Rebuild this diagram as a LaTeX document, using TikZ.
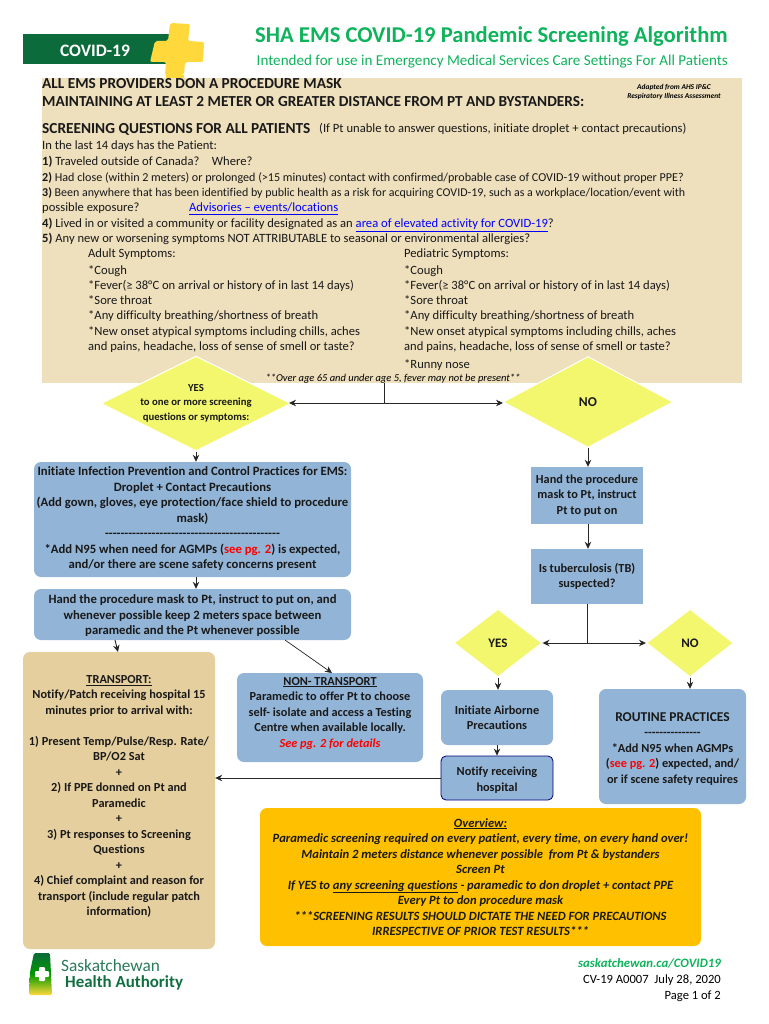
\documentclass[tikz,border=0pt]{standalone}
\usepackage{fontspec}
\setmainfont[Ligatures={TeXOff,NoCommon}]{Carlito}
\usetikzlibrary{shapes.geometric,arrows.meta}
\definecolor{beige}{HTML}{EEDFBD}
\definecolor{tan}{HTML}{E5CF9E}
\definecolor{bluebox}{HTML}{92B4D6}
\definecolor{ylw}{HTML}{F2F76E}
\definecolor{titlegreen}{HTML}{0FB35C}
\definecolor{bargreen}{HTML}{0B6B3A}
\definecolor{crossy}{HTML}{FFD93B}
\definecolor{orng}{HTML}{FFC000}
\definecolor{logogreen}{HTML}{2B7A5C}
\newcommand{\see}[1]{\textcolor{red}{#1}}
\tikzset{
 x=1pt,y=-1pt,
 ln/.style={anchor=base west,inner sep=0,font=\fontsize{12.6}{14}\selectfont,text=black!90},
 lnb/.style={ln,font=\fontsize{15.3}{16}\selectfont\bfseries},
 rbox/.style={draw=none,fill=bluebox,rounded corners=7pt},
 sbox/.style={draw=none,fill=bluebox},
 tx/.style={align=center,inner sep=0,font=\fontsize{12.3}{15.5}\selectfont\bfseries,text=black!90},
 txw/.style={tx,font=\fontsize{12.7}{15.5}\selectfont\bfseries},
 dia/.style={diamond,fill=ylw,draw=white,line width=1pt,inner sep=0,aspect=1},
 arr/.style={-{Stealth[length=7pt,width=6.5pt]},draw=black!85,line width=0.9pt},
 link/.style={draw=black!85,line width=0.9pt},
}
\begin{document}
\begin{tikzpicture}
\useasboundingbox (0,0) rectangle (768,1024);
\fill[white] (0,0) rectangle (768,1024);
% header
\fill[bargreen] (23,34) rectangle (170,64);
\node[font=\fontsize{17.5}{18}\selectfont\bfseries,text=white,inner sep=0] (cvd) at (95,51) {COVID-19};
\fill[crossy,rounded corners=2pt] (170,23) -- (190,24) -- (188,41) -- (204,42) -- (203,62) -- (185,62) -- (184,75) -- (165,75) -- (166,62) -- (150,62) -- (155,41) -- (168,41) -- cycle;
\node[anchor=base east,inner sep=0,font=\fontsize{22.6}{24}\selectfont\bfseries,text=titlegreen] (title) at (728,43) {SHA EMS COVID-19 Pandemic Screening Algorithm};
\node[anchor=base east,inner sep=0,font=\fontsize{15.1}{16}\selectfont,text=titlegreen] (sub) at (728,66) {Intended for use in Emergency Medical Services Care Settings For All Patients};
% beige
\fill[beige] (42,78) rectangle (742,383);
\fill[crossy] (166,75) -- (184,75) -- (184,78) -- (166,78) -- cycle;
\node[lnb] (l1) at (42,88.5) {ALL EMS PROVIDERS DON A PROCEDURE MASK};
\node[lnb] (l2) at (42,106.5) {MAINTAINING AT LEAST 2 METER OR GREATER DISTANCE FROM PT AND BYSTANDERS:};
\node[align=center,inner sep=0,font=\fontsize{7.4}{9.5}\selectfont\bfseries\itshape] (adapt) at (674,92) {Adapted from AHS IP\&C\\Respiratory Illness Assessment};
\node[lnb] (l3) at (42,133.5) {SCREENING QUESTIONS FOR ALL PATIENTS};
\node[ln] (l3b) at (319,133) {(If Pt unable to answer questions, initiate droplet + contact precautions)};
\node[ln] (l4) at (42,150) {In the last 14 days has the Patient:};
\node[ln] (q1) at (42,166) {\textbf{1)} Traveled outside of Canada?\quad Where?};
\node[ln,font=\fontsize{12.1}{14}\selectfont] (q2) at (42,182) {\textbf{2)} Had close (within 2 meters) or prolonged (>15 minutes) contact with confirmed/probable case of COVID-19 without proper PPE?};
\node[ln,font=\fontsize{11.95}{14}\selectfont] (q3) at (42,197) {\textbf{3)} Been anywhere that has been identified by public health as a risk for acquiring COVID-19, such as a workplace/location/event with};
\node[ln] (q3b) at (42,212) {possible exposure?};
\node[ln,text=blue] (adv) at (189,212) {\underline{Advisories – events/locations}};
\node[ln] (q4) at (42,228) {\textbf{4)} Lived in or visited a community or facility designated as an \textcolor{blue}{\underline{area of elevated activity for COVID-19}}?};
\node[ln] (q5) at (42,243) {\textbf{5)} Any new or worsening symptoms NOT ATTRIBUTABLE to seasonal or environmental allergies?};
\node[ln] (a0) at (88,258) {Adult Symptoms:};
\node[ln] (a1) at (88,274) {*Cough};
\node[ln] (a2) at (88,289) {*Fever(≥ 38°C on arrival or history of in last 14 days)};
\node[ln] (a3) at (88,304) {*Sore throat};
\node[ln] (a4) at (88,319) {*Any difficulty breathing/shortness of breath};
\node[ln] (a5) at (88,335) {*New onset atypical symptoms including chills, aches};
\node[ln] (a6) at (88,350) {and pains, headache, loss of sense of smell or taste?};
\node[ln] (p0) at (404,258) {Pediatric Symptoms:};
\node[ln] (p1) at (404,274) {*Cough};
\node[ln] (p2) at (404,289) {*Fever(≥ 38°C on arrival or history of in last 14 days)};
\node[ln] (p3) at (404,304) {*Sore throat};
\node[ln] (p4) at (404,319) {*Any difficulty breathing/shortness of breath};
\node[ln] (p5) at (404,335) {*New onset atypical symptoms including chills, aches};
\node[ln] (p6) at (404,350) {and pains, headache, loss of sense of smell or taste?};
\node[ln] (p7) at (404,368) {*Runny nose};
\node[inner sep=0,font=\fontsize{10.5}{12}\selectfont\itshape] (over) at (393,379) {**Over age 65 and under age 5, fever may not be present**};
% diamonds
\node[dia,minimum width=190pt,minimum height=95pt] (dy) at (196,403.5) {};
\node[tx,font=\fontsize{10.7}{14.5}\selectfont\bfseries] (dyt) at (196,403) {YES\\to one or more screening\\questions or symptoms:};
\node[dia,minimum width=170pt,minimum height=91pt] (dn) at (588,402) {};
\node[tx,font=\fontsize{13.5}{15}\selectfont\bfseries] (dnt) at (588,402) {NO};
\coordinate (jt) at (384,383);
\coordinate (jm) at (384,403);
\draw[link] (jt) -- (jm);
\draw[arr] (jm) -- (289,403);
\draw[arr] (jm) -- (503,403);
% left boxes
\node[rbox,minimum width=317pt,minimum height=115pt] (A) at (192.5,519.5) {};
\node[txw] (At) at (192.5,519) {Initiate Infection Prevention and Control Practices for EMS:\\Droplet + Contact Precautions\\(Add gown, gloves, eye protection/face shield to procedure\\mask)\\---------------------------------------------\\*Add N95 when need for AGMPs (\see{see pg. 2}) is expected,\\and/or there are scene safety concerns present};
\node[rbox,minimum width=317pt,minimum height=51pt] (B) at (192.5,614.5) {};
\node[txw] (Bt) at (192.5,616) {Hand the procedure mask to Pt, instruct to put on, and\\whenever possible keep 2 meters space between\\paramedic and the Pt whenever possible};
\node[rbox,fill=tan,minimum width=192pt,minimum height=297pt] (T) at (119,800.5) {};
\node[tx,anchor=north] (Tt) at (119,675) {\underline{TRANSPORT:}\\Notify/Patch receiving hospital 15\\minutes prior to arrival with:\\[15.5pt]1) Present Temp/Pulse/Resp. Rate/\\BP/O2 Sat\\+\\2) If PPE donned on Pt and\\Paramedic\\+\\3) Pt responses to Screening\\Questions\\+\\4) Chief complaint and reason for\\transport (include regular patch\\information)};
\node[rbox,minimum width=186pt,minimum height=89pt] (N) at (330,717.5) {};
\node[tx] (Nt) at (330,713) {\underline{NON- TRANSPORT}\\Paramedic to offer Pt to choose\\self- isolate and access a Testing\\Centre when available locally.\\\see{\itshape See pg. 2 for details}};
% right column
\node[sbox,minimum width=112pt,minimum height=57pt] (H) at (587,495.5) {};
\node[tx] (Ht) at (587,495.5) {Hand the procedure\\mask to Pt, instruct\\Pt to put on};
\node[sbox,minimum width=112pt,minimum height=55pt] (TB) at (587,576.5) {};
\node[tx] (TBt) at (587,576.5) {Is tuberculosis (TB)\\suspected?};
\node[dia,minimum width=88pt,minimum height=68pt] (sy) at (498,643) {};
\node[tx,font=\fontsize{13}{15}\selectfont\bfseries] (syt) at (498,643) {YES};
\node[dia,minimum width=87pt,minimum height=68pt] (sn) at (690,643) {};
\node[tx,font=\fontsize{13}{15}\selectfont\bfseries] (snt) at (690,643) {NO};
\node[rbox,minimum width=112pt,minimum height=55pt] (IA) at (497,717.5) {};
\node[tx] (IAt) at (497,717.5) {Initiate Airborne\\Precautions};
\node[rbox,rounded corners=5pt,draw=blue!50!black,line width=0.8pt,minimum width=112pt,minimum height=44pt] (NR) at (497,778) {};
\node[tx] (NRt) at (497,780) {Notify receiving\\hospital};
\node[rbox,minimum width=147pt,minimum height=115pt] (R) at (672.5,746.5) {};
\node[tx] (Rt) at (672.5,749) {{\fontsize{13.5}{16}\selectfont ROUTINE PRACTICES}\\---------------\\*Add N95 when AGMPs\\(\see{see pg. 2}) expected, and/\\or if scene safety requires};
\node[rbox,fill=orng,minimum width=441pt,minimum height=138pt] (O) at (480.5,877) {};
\node[tx,font=\fontsize{12.6}{15.5}\selectfont\bfseries\itshape] (Ot) at (480.5,877) {\underline{Overview:}\\Paramedic screening required on every patient, every time, on every hand over!\\Maintain 2 meters distance whenever possible\ \ from Pt \& bystanders\\Screen Pt\\If YES to \underline{any screening questions} - paramedic to don droplet + contact PPE\\Every Pt to don procedure mask\\***SCREENING RESULTS SHOULD DICTATE THE NEED FOR PRECAUTIONS\\IRRESPECTIVE OF PRIOR TEST RESULTS***};
% connectors
\draw[arr] (dy.south) -- (A.north -| dy.south);
\draw[arr] (A.south -| dy.south) -- (B.north -| dy.south);
\coordinate (bt) at (115,640);
\draw[arr] (bt) -- (118,652);
\coordinate (bn) at (285,640);
\draw[arr,line width=0.7pt] (bn) -- (332,673);
\draw[arr] (dn.south) -- (H.north -| dn.south);
\draw[arr] (H.south -| dn.south) -- (TB.north -| dn.south);
\coordinate (jb) at (587,643);
\draw[link] (TB.south) -- (jb);
\draw[arr] (jb) -- (sy.east);
\draw[arr] (jb) -- (sn.west);
\draw[arr] (sy.south) -- (IA.north -| sy.south);
\draw[arr] (sn.south) -- (R.north -| sn.south);
\draw[arr] (IA.south) -- (NR.north);
\draw[arr] (NR.west) -- (T.east |- NR.west);
% logo
\shade[top color=bargreen,bottom color=crossy,middle color=green!60!black,rounded corners=1.5pt] (34,953) -- (50,953) -- (52,995) -- (29,995) -- (30,972) -- cycle;
\fill[white,rounded corners=1pt] (39,967) rectangle (45,981);
\fill[white,rounded corners=1pt] (35,971) rectangle (49,977);
\node[anchor=base west,inner sep=0,font=\fontsize{17.3}{18}\selectfont,text=logogreen] (lg1) at (61,971) {Saskatchewan};
\node[anchor=base west,inner sep=0,font=\fontsize{16.9}{18}\selectfont\bfseries,text=bargreen!80!logogreen] (lg2) at (65,987) {Health Authority};
\node[anchor=base east,inner sep=0,font=\fontsize{12.8}{14}\selectfont\bfseries\itshape,text=titlegreen] (f1) at (721,967) {saskatchewan.ca/COVID19};
\node[anchor=base east,inner sep=0,font=\fontsize{12.6}{14}\selectfont] (f2) at (721,983) {CV-19 A0007\ \ July 28, 2020};
\node[anchor=base east,inner sep=0,font=\fontsize{12.6}{14}\selectfont] (f3) at (721,999) {Page 1 of 2};
\end{tikzpicture}
\end{document}
